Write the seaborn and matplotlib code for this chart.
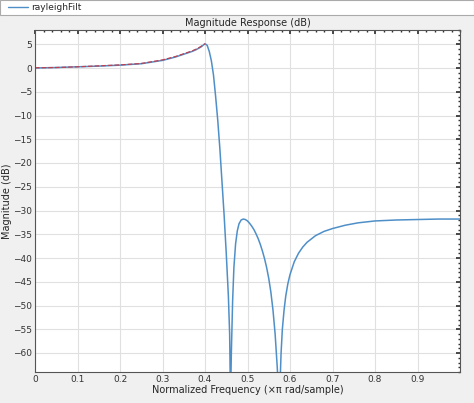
import matplotlib
matplotlib.use("Agg")
import matplotlib.pyplot as plt
import seaborn as sns
import numpy as np
from matplotlib.ticker import MultipleLocator
from matplotlib.lines import Line2D

freq = [0, 0.05, 0.1, 0.15, 0.2, 0.25, 0.3, 0.33, 0.35, 0.37, 0.38, 0.39, 0.4, 0.405, 0.41, 0.415, 0.42, 0.425, 0.43, 0.435, 0.44, 0.445, 0.45, 0.455, 0.458, 0.46,
        0.462, 0.465, 0.468, 0.472, 0.476, 0.48, 0.485, 0.49, 0.495, 0.5, 0.505, 0.51, 0.515, 0.52, 0.525, 0.53, 0.535, 0.54, 0.545, 0.55, 0.555, 0.56, 0.565, 0.57, 0.574,
        0.576, 0.579, 0.582, 0.586, 0.59, 0.595, 0.6, 0.61, 0.62, 0.63, 0.64, 0.66, 0.68, 0.7, 0.73, 0.76, 0.8, 0.85, 0.9, 0.95, 1.0]
mag = [0.0, 0.1, 0.25, 0.4, 0.6, 0.9, 1.6, 2.3, 2.9, 3.5, 3.9, 4.4, 5.1, 4.8, 3.5, 1.5, -1.5, -6, -11, -17, -24, -31, -39, -48, -56, -70,
       -60, -49, -42, -37, -34.3, -32.8, -32.0, -31.8, -31.9, -32.2, -32.7, -33.3, -34.0, -34.9, -35.9, -37.1, -38.5, -40.1, -42.0, -44.3, -47.2, -51, -56, -63, -70,
       -68, -60, -55, -51, -48, -45.4, -43.5, -40.8, -39.0, -37.7, -36.7, -35.3, -34.4, -33.8, -33.1, -32.6, -32.2, -32.0, -31.9, -31.8, -31.8]
mask_f = [0, 0.05, 0.1, 0.15, 0.2, 0.25, 0.3, 0.33, 0.35, 0.37, 0.38, 0.39, 0.4]
mask_m = [0.05, 0.1, 0.25, 0.45, 0.65, 0.95, 1.7, 2.4, 3.0, 3.6, 4.0, 4.5, 5.1]

sns.set_theme(style="white")
plt.rcParams['font.family'] = ['DejaVu Sans']
fig = plt.figure(figsize=(4.74, 4.03), dpi=100, facecolor="#f0f0f0")
ax = fig.add_axes([35/474, 1-372/403, 425/474, 342/403])
ax.set_facecolor("white")
sns.lineplot(x=freq, y=mag, ax=ax, color="#4f8fc8", lw=1.1, sort=False)
sns.lineplot(x=mask_f, y=mask_m, ax=ax, color="#c04050", lw=0.9, linestyle="--", sort=False)
ax.set_xlim(0, 1)
ax.set_ylim(-64, 8)
ax.xaxis.set_minor_locator(MultipleLocator(0.02))
ax.yaxis.set_major_locator(MultipleLocator(5))
ax.yaxis.set_minor_locator(MultipleLocator(1))
ax.set_xticks(np.arange(0, 0.91, 0.1))
ax.set_xticklabels(["0"] + [f"{v:.1f}" for v in np.arange(0.1, 0.91, 0.1)])
ax.grid(True, which="major", color="#e0e0e0", lw=0.8)
ax.tick_params(which="both", direction="in", top=True, right=True, labelsize=6.5, colors="#333333", length=3, pad=2)
ax.tick_params(which="minor", length=1.5)
for s in ax.spines.values():
    s.set_color("#555555"); s.set_linewidth(0.8)
ax.set_xlabel("Normalized Frequency (×π rad/sample)", fontsize=7, labelpad=1)
ax.set_ylabel("Magnitude (dB)", fontsize=7, labelpad=1)
ax.set_title("Magnitude Response (dB)", fontsize=7, pad=3)
fig.patches.append(plt.Rectangle((0, 1-15/403), 1, 15/403, transform=fig.transFigure, facecolor="white", edgecolor="#aaaaaa", lw=0.8))
fig.legend(handles=[Line2D([0], [0], color="#4f8fc8", lw=1)], labels=["rayleighFilt"], loc="upper left",
           bbox_to_anchor=(0, 1.012), frameon=False, fontsize=6.5, handlelength=2.2, handletextpad=0.4)
fig.savefig("out.png", dpi=100, facecolor=fig.get_facecolor())
